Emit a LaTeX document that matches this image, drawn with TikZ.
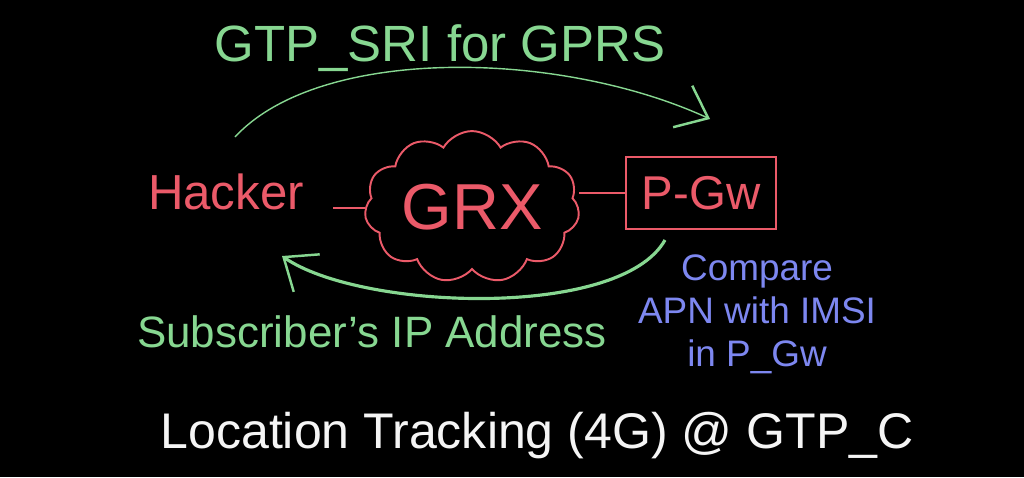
\documentclass[tikz,border=0pt]{standalone}
\usepackage{fontspec}
\setmainfont{Liberation Sans}
\usetikzlibrary{shapes.symbols,arrows.meta}
\definecolor{chalkgreen}{RGB}{135,215,145}
\definecolor{chalkred}{RGB}{235,90,105}
\definecolor{chalkblue}{RGB}{125,135,240}
\definecolor{chalkwhite}{RGB}{245,245,245}

\begin{document}
\begin{tikzpicture}[x=0.02cm, y=-0.02cm,
    txt/.style={inner sep=0pt},
    greentxt/.style={txt, text=chalkgreen},
    redtxt/.style={txt, text=chalkred},
    redline/.style={draw=chalkred, line width=1.1pt},
    barb/.style={-{Straight Barb[length=16pt, width=26pt, line width=1.4pt]}}]
  \fill[black] (0,0) rectangle (1024,477);
  % labels
  \node[greentxt, font=\fontsize{29}{35}\selectfont] (sri) at (440,48) {GTP\_SRI for GPRS};
  \node[redtxt, font=\fontsize{28}{34}\selectfont] (hacker) at (226,192) {Hacker};
  \node[redline, cloud, cloud puffs=11, cloud puff arc=120, aspect=1.6,
        minimum width=4.3cm, minimum height=2.7cm, inner sep=0pt,
        text=chalkred, font=\fontsize{37}{44}\selectfont] (grx) at (472,207) {GRX};
  \node[redline, rectangle, minimum width=3.0cm, minimum height=1.45cm,
        text=chalkred, font=\fontsize{27}{32}\selectfont] (pgw) at (701,193) {P-Gw};
  \node[greentxt, font=\fontsize{25}{30}\selectfont] (addr) at (372,332) {Subscriber's IP Address};
  \node[txt, text=chalkblue, align=center, font=\fontsize{21}{24.5}\selectfont] (cmp) at (757,314)
    {Compare\\APN with IMSI\\in P\_Gw};
  \node[txt, text=chalkwhite, font=\fontsize{28.5}{34}\selectfont] (loc) at (537,436)
    {Location Tracking (4G) @ GTP\_C};
  % connectors
  \coordinate (hl) at (333,208);
  \draw[redline] (hl) -- (grx.west |- hl);
  \draw[redline] (grx.east |- pgw.west) -- (pgw.west);
  \coordinate (s1) at (235,137);
  \coordinate (e1) at (710,119);
  \draw[chalkgreen, line width=0.8pt, barb] (s1) .. controls (320,45) and (560,50) .. (e1);
  \coordinate (s2) at (665,240);
  \coordinate (e2) at (282,256);
  \draw[chalkgreen, line width=1.8pt, barb] (s2) .. controls (620,320) and (360,310) .. (e2);
\end{tikzpicture}
\end{document}
